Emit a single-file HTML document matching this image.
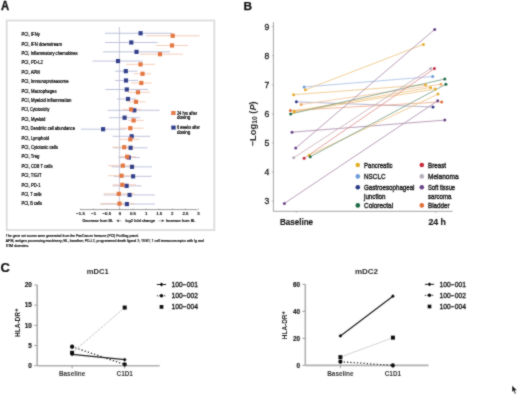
<!DOCTYPE html><html><head><meta charset="utf-8"><style>html,body{margin:0;padding:0;background:#fff;width:520px;height:398px;overflow:hidden}svg{position:absolute;left:0;top:0;display:block}text{font-family:"Liberation Sans",sans-serif}</style></head><body>
<svg width="520" height="398" viewBox="0 0 520 398">
<defs><filter id="bl" x="0" y="0" width="520" height="398" filterUnits="userSpaceOnUse"><feConvolveMatrix order="3" kernelMatrix="1 2 1 2 14 2 1 2 1" divisor="26" edgeMode="duplicate"/></filter></defs>
<rect width="520" height="398" fill="#fff"/><g filter="url(#bl)">
<text transform="translate(0.9,9.8) scale(0.92,1)" font-size="12.3" font-weight="bold" fill="#111" stroke="#111" stroke-width="0.25">A</text>
<rect x="6.7" y="20.5" width="207.6" height="209.6" fill="none" stroke="#dcdcdc" stroke-width="1.8"/>
<line x1="119.4" y1="27" x2="119.4" y2="209.6" stroke="#aeb2c8" stroke-width="0.7"/>
<text transform="translate(21.5,36.10) scale(0.900,1)" font-size="4.7" fill="#000" stroke="#000" stroke-width="0.2">PCI, IFNγ</text>
<line x1="105" y1="33.25" x2="172.5" y2="33.25" stroke="#aeb4d2" stroke-width="0.8"/>
<line x1="146" y1="35.75" x2="199.5" y2="35.75" stroke="#f3c2a6" stroke-width="0.8"/>
<text transform="translate(21.5,45.51) scale(0.900,1)" font-size="4.7" fill="#000" stroke="#000" stroke-width="0.2">PCI, IFN downstream</text>
<line x1="105" y1="42.46" x2="157.5" y2="42.46" stroke="#aeb4d2" stroke-width="0.8"/>
<line x1="156" y1="45.46" x2="188" y2="45.46" stroke="#f3c2a6" stroke-width="0.8"/>
<text transform="translate(21.5,54.91) scale(0.881,1)" font-size="4.7" fill="#000" stroke="#000" stroke-width="0.2">PCI, Inflammatory chemokines</text>
<line x1="103" y1="51.86" x2="170" y2="51.86" stroke="#aeb4d2" stroke-width="0.8"/>
<line x1="140" y1="54.16" x2="183" y2="54.16" stroke="#f3c2a6" stroke-width="0.8"/>
<text transform="translate(21.5,64.32) scale(0.900,1)" font-size="4.7" fill="#000" stroke="#000" stroke-width="0.2">PCI, PD-L2</text>
<line x1="92.5" y1="61.07" x2="142.5" y2="61.07" stroke="#aeb4d2" stroke-width="0.8"/>
<line x1="126" y1="64.37" x2="155" y2="64.37" stroke="#f3c2a6" stroke-width="0.8"/>
<text transform="translate(21.5,73.72) scale(0.900,1)" font-size="4.7" fill="#000" stroke="#000" stroke-width="0.2">PCI, APM</text>
<line x1="115" y1="71.17" x2="137.5" y2="71.17" stroke="#aeb4d2" stroke-width="0.8"/>
<line x1="134" y1="73.77" x2="151" y2="73.77" stroke="#f3c2a6" stroke-width="0.8"/>
<text transform="translate(21.5,83.13) scale(0.900,1)" font-size="4.7" fill="#000" stroke="#000" stroke-width="0.2">PCI, Immunoproteasome</text>
<line x1="115" y1="80.48" x2="138" y2="80.48" stroke="#aeb4d2" stroke-width="0.8"/>
<line x1="131" y1="82.98" x2="151.8" y2="82.98" stroke="#f3c2a6" stroke-width="0.8"/>
<text transform="translate(21.5,92.54) scale(0.900,1)" font-size="4.7" fill="#000" stroke="#000" stroke-width="0.2">PCI, Macrophages</text>
<line x1="105.5" y1="89.49" x2="148" y2="89.49" stroke="#aeb4d2" stroke-width="0.8"/>
<line x1="127.5" y1="92.29" x2="150" y2="92.29" stroke="#f3c2a6" stroke-width="0.8"/>
<text transform="translate(21.5,101.94) scale(0.916,1)" font-size="4.7" fill="#000" stroke="#000" stroke-width="0.2">PCI, Myeloid inflammation</text>
<line x1="117" y1="98.99" x2="136" y2="98.99" stroke="#aeb4d2" stroke-width="0.8"/>
<line x1="127.5" y1="101.79" x2="145.5" y2="101.79" stroke="#f3c2a6" stroke-width="0.8"/>
<text transform="translate(21.5,111.35) scale(0.809,1)" font-size="4.7" fill="#000" stroke="#000" stroke-width="0.2">PCI, Cytotoxicity</text>
<line x1="107.4" y1="110.30" x2="159.6" y2="110.30" stroke="#aeb4d2" stroke-width="0.8"/>
<line x1="122.5" y1="109.40" x2="141" y2="109.40" stroke="#f3c2a6" stroke-width="0.8"/>
<text transform="translate(21.5,120.75) scale(0.900,1)" font-size="4.7" fill="#000" stroke="#000" stroke-width="0.2">PCI, Myeloid</text>
<line x1="109.1" y1="117.70" x2="140.1" y2="117.70" stroke="#aeb4d2" stroke-width="0.8"/>
<line x1="128" y1="120.40" x2="143.7" y2="120.40" stroke="#f3c2a6" stroke-width="0.8"/>
<text transform="translate(21.5,130.16) scale(0.867,1)" font-size="4.7" fill="#000" stroke="#000" stroke-width="0.2">PCI, Dendritic cell abundance</text>
<line x1="81" y1="129.21" x2="126" y2="129.21" stroke="#aeb4d2" stroke-width="0.8"/>
<line x1="120" y1="128.21" x2="143.5" y2="128.21" stroke="#f3c2a6" stroke-width="0.8"/>
<text transform="translate(21.5,139.57) scale(0.900,1)" font-size="4.7" fill="#000" stroke="#000" stroke-width="0.2">PCI, Lymphoid</text>
<line x1="112.5" y1="136.32" x2="150.2" y2="136.32" stroke="#aeb4d2" stroke-width="0.8"/>
<line x1="120" y1="139.32" x2="139.4" y2="139.32" stroke="#f3c2a6" stroke-width="0.8"/>
<text transform="translate(21.5,148.97) scale(0.900,1)" font-size="4.7" fill="#000" stroke="#000" stroke-width="0.2">PCI, Cytotoxic cells</text>
<line x1="113.3" y1="147.82" x2="147.3" y2="147.82" stroke="#aeb4d2" stroke-width="0.8"/>
<line x1="112" y1="147.22" x2="135" y2="147.22" stroke="#f3c2a6" stroke-width="0.8"/>
<text transform="translate(21.5,158.38) scale(0.900,1)" font-size="4.7" fill="#000" stroke="#000" stroke-width="0.2">PCI, Treg</text>
<line x1="118.5" y1="157.53" x2="139.8" y2="157.53" stroke="#aeb4d2" stroke-width="0.8"/>
<line x1="118.5" y1="156.73" x2="136" y2="156.73" stroke="#f3c2a6" stroke-width="0.8"/>
<text transform="translate(21.5,167.78) scale(0.900,1)" font-size="4.7" fill="#000" stroke="#000" stroke-width="0.2">PCI, CD8 T cells</text>
<line x1="111.5" y1="166.83" x2="152" y2="166.83" stroke="#aeb4d2" stroke-width="0.8"/>
<line x1="108" y1="165.63" x2="135" y2="165.63" stroke="#f3c2a6" stroke-width="0.8"/>
<text transform="translate(21.5,177.19) scale(0.900,1)" font-size="4.7" fill="#000" stroke="#000" stroke-width="0.2">PCI, TIGIT</text>
<line x1="113.8" y1="176.34" x2="151.5" y2="176.34" stroke="#aeb4d2" stroke-width="0.8"/>
<line x1="107.8" y1="175.74" x2="135" y2="175.74" stroke="#f3c2a6" stroke-width="0.8"/>
<text transform="translate(21.5,186.60) scale(0.900,1)" font-size="4.7" fill="#000" stroke="#000" stroke-width="0.2">PCI, PD-1</text>
<line x1="112.5" y1="185.85" x2="141.4" y2="185.85" stroke="#aeb4d2" stroke-width="0.8"/>
<line x1="112.5" y1="184.85" x2="136" y2="184.85" stroke="#f3c2a6" stroke-width="0.8"/>
<text transform="translate(21.5,196.00) scale(0.843,1)" font-size="4.7" fill="#000" stroke="#000" stroke-width="0.2">PCI, T cells</text>
<line x1="103.7" y1="194.95" x2="154.9" y2="194.95" stroke="#aeb4d2" stroke-width="0.8"/>
<line x1="103.7" y1="193.85" x2="135" y2="193.85" stroke="#f3c2a6" stroke-width="0.8"/>
<text transform="translate(21.5,205.41) scale(0.848,1)" font-size="4.7" fill="#000" stroke="#000" stroke-width="0.2">PCI, B cells</text>
<line x1="100.4" y1="204.06" x2="154.9" y2="204.06" stroke="#aeb4d2" stroke-width="0.8"/>
<line x1="100.4" y1="203.66" x2="135" y2="203.66" stroke="#f3c2a6" stroke-width="0.8"/>
<rect x="138.50" y="31.15" width="4.2" height="4.2" fill="#313f8a"/>
<rect x="170.60" y="33.65" width="4.2" height="4.2" fill="#e4773f"/>
<rect x="129.20" y="40.36" width="4.2" height="4.2" fill="#313f8a"/>
<rect x="169.90" y="43.36" width="4.2" height="4.2" fill="#e4773f"/>
<rect x="134.40" y="49.76" width="4.2" height="4.2" fill="#313f8a"/>
<rect x="157.90" y="52.06" width="4.2" height="4.2" fill="#e4773f"/>
<rect x="115.90" y="58.97" width="4.2" height="4.2" fill="#313f8a"/>
<rect x="138.40" y="62.27" width="4.2" height="4.2" fill="#e4773f"/>
<rect x="123.70" y="69.07" width="4.2" height="4.2" fill="#313f8a"/>
<rect x="140.40" y="71.67" width="4.2" height="4.2" fill="#e4773f"/>
<rect x="123.90" y="78.38" width="4.2" height="4.2" fill="#313f8a"/>
<rect x="139.20" y="80.88" width="4.2" height="4.2" fill="#e4773f"/>
<rect x="124.70" y="87.39" width="4.2" height="4.2" fill="#313f8a"/>
<rect x="135.90" y="90.19" width="4.2" height="4.2" fill="#e4773f"/>
<rect x="125.90" y="96.89" width="4.2" height="4.2" fill="#313f8a"/>
<rect x="133.90" y="99.69" width="4.2" height="4.2" fill="#e4773f"/>
<rect x="132.20" y="108.20" width="4.2" height="4.2" fill="#313f8a"/>
<rect x="129.00" y="107.30" width="4.2" height="4.2" fill="#e4773f"/>
<rect x="122.50" y="115.60" width="4.2" height="4.2" fill="#313f8a"/>
<rect x="131.50" y="118.30" width="4.2" height="4.2" fill="#e4773f"/>
<rect x="101.00" y="127.11" width="4.2" height="4.2" fill="#313f8a"/>
<rect x="128.20" y="126.11" width="4.2" height="4.2" fill="#e4773f"/>
<rect x="129.60" y="134.22" width="4.2" height="4.2" fill="#313f8a"/>
<rect x="128.20" y="137.22" width="4.2" height="4.2" fill="#e4773f"/>
<rect x="128.50" y="145.72" width="4.2" height="4.2" fill="#313f8a"/>
<rect x="122.10" y="145.12" width="4.2" height="4.2" fill="#e4773f"/>
<rect x="126.70" y="155.43" width="4.2" height="4.2" fill="#313f8a"/>
<rect x="125.00" y="154.63" width="4.2" height="4.2" fill="#e4773f"/>
<rect x="129.90" y="164.73" width="4.2" height="4.2" fill="#313f8a"/>
<rect x="120.70" y="163.53" width="4.2" height="4.2" fill="#e4773f"/>
<rect x="131.00" y="174.24" width="4.2" height="4.2" fill="#313f8a"/>
<rect x="119.40" y="173.64" width="4.2" height="4.2" fill="#e4773f"/>
<rect x="124.50" y="183.75" width="4.2" height="4.2" fill="#313f8a"/>
<rect x="120.20" y="182.75" width="4.2" height="4.2" fill="#e4773f"/>
<rect x="127.50" y="192.85" width="4.2" height="4.2" fill="#313f8a"/>
<rect x="116.70" y="191.75" width="4.2" height="4.2" fill="#e4773f"/>
<rect x="124.80" y="201.96" width="4.2" height="4.2" fill="#313f8a"/>
<rect x="117.40" y="201.56" width="4.2" height="4.2" fill="#e4773f"/>
<rect x="171.2" y="111" width="4.4" height="4" fill="#e27c4c"/>
<rect x="171.3" y="125.6" width="4.4" height="4" fill="#313f8a"/>
<text x="176.9" y="114.7" font-size="4.6" fill="#000" stroke="#000" stroke-width="0.2" textLength="20.2" lengthAdjust="spacingAndGlyphs">24 hrs after</text>
<text x="176.9" y="119.3" font-size="4.6" fill="#000" stroke="#000" stroke-width="0.2">dosing</text>
<text x="176.9" y="129.2" font-size="4.6" fill="#000" stroke="#000" stroke-width="0.2" textLength="23" lengthAdjust="spacingAndGlyphs">6 weeks after</text>
<text x="176.9" y="133.8" font-size="4.6" fill="#000" stroke="#000" stroke-width="0.2">dosing</text>
<line x1="80.3" y1="209.6" x2="197.5" y2="209.6" stroke="#555" stroke-width="0.6"/>
<line x1="80.60" y1="208.6" x2="80.60" y2="209.6" stroke="#555" stroke-width="0.5"/>
<text x="80.60" y="215.1" font-size="4.3" fill="#000" stroke="#000" stroke-width="0.2" text-anchor="middle">−1.5</text>
<line x1="93.70" y1="208.6" x2="93.70" y2="209.6" stroke="#555" stroke-width="0.5"/>
<text x="93.70" y="215.1" font-size="4.3" fill="#000" stroke="#000" stroke-width="0.2" text-anchor="middle">−1</text>
<line x1="106.80" y1="208.6" x2="106.80" y2="209.6" stroke="#555" stroke-width="0.5"/>
<text x="106.80" y="215.1" font-size="4.3" fill="#000" stroke="#000" stroke-width="0.2" text-anchor="middle">−0.5</text>
<line x1="119.90" y1="208.6" x2="119.90" y2="209.6" stroke="#555" stroke-width="0.5"/>
<text x="119.90" y="215.1" font-size="4.3" fill="#000" stroke="#000" stroke-width="0.2" text-anchor="middle">0</text>
<line x1="133.00" y1="208.6" x2="133.00" y2="209.6" stroke="#555" stroke-width="0.5"/>
<text x="133.00" y="215.1" font-size="4.3" fill="#000" stroke="#000" stroke-width="0.2" text-anchor="middle">0.5</text>
<line x1="146.10" y1="208.6" x2="146.10" y2="209.6" stroke="#555" stroke-width="0.5"/>
<text x="146.10" y="215.1" font-size="4.3" fill="#000" stroke="#000" stroke-width="0.2" text-anchor="middle">1</text>
<line x1="159.20" y1="208.6" x2="159.20" y2="209.6" stroke="#555" stroke-width="0.5"/>
<text x="159.20" y="215.1" font-size="4.3" fill="#000" stroke="#000" stroke-width="0.2" text-anchor="middle">1.5</text>
<line x1="172.30" y1="208.6" x2="172.30" y2="209.6" stroke="#555" stroke-width="0.5"/>
<text x="172.30" y="215.1" font-size="4.3" fill="#000" stroke="#000" stroke-width="0.2" text-anchor="middle">2</text>
<line x1="185.40" y1="208.6" x2="185.40" y2="209.6" stroke="#555" stroke-width="0.5"/>
<text x="185.40" y="215.1" font-size="4.3" fill="#000" stroke="#000" stroke-width="0.2" text-anchor="middle">2.5</text>
<line x1="198.50" y1="208.6" x2="198.50" y2="209.6" stroke="#555" stroke-width="0.5"/>
<text x="198.50" y="215.1" font-size="4.3" fill="#000" stroke="#000" stroke-width="0.2" text-anchor="middle">3</text>
<text x="82.4" y="222.1" font-size="4.3" fill="#000" stroke="#000" stroke-width="0.2" textLength="30.8" lengthAdjust="spacingAndGlyphs">Decrease from BL</text>
<path d="M116.2 220.8L118.8 219.6L118.8 222Z" fill="#222"/><line x1="118" y1="220.8" x2="121.5" y2="220.8" stroke="#555" stroke-width="0.5"/>
<text x="125.4" y="222.1" font-size="4.3" fill="#000" stroke="#000" stroke-width="0.2" textLength="29.7" lengthAdjust="spacingAndGlyphs">log2 fold change</text>
<path d="M164.4 220.8L161.8 219.6L161.8 222Z" fill="#222"/><line x1="158.4" y1="220.8" x2="162.5" y2="220.8" stroke="#555" stroke-width="0.5"/>
<text x="165.8" y="222.1" font-size="4.3" fill="#000" stroke="#000" stroke-width="0.2" textLength="29.6" lengthAdjust="spacingAndGlyphs">Increase from BL</text>
<text x="5.8" y="236.6" font-size="3.5" fill="#000" stroke="#000" stroke-width="0.16" textLength="133" lengthAdjust="spacingAndGlyphs">The gene set scores were generated from the PanCancer Immune (PCI) Profiling panel.</text>
<text x="5.8" y="241.7" font-size="3.5" fill="#000" stroke="#000" stroke-width="0.16" textLength="198" lengthAdjust="spacingAndGlyphs">APM, antigen processing machinery; BL, baseline; PD-L2, programmed death ligand 2; TIGIT, T cell immunoreceptor with Ig and</text>
<text x="5.8" y="247.0" font-size="3.5" fill="#000" stroke="#000" stroke-width="0.16" textLength="23.4" lengthAdjust="spacingAndGlyphs">ITIM domains.</text>
<text x="243.6" y="9.7" font-size="11.8" font-weight="bold" fill="#111" stroke="#111" stroke-width="0.25">B</text>
<line x1="273.4" y1="22" x2="273.4" y2="211.3" stroke="#9a9a9a" stroke-width="0.9"/>
<line x1="273.4" y1="211.3" x2="452.5" y2="211.3" stroke="#9a9a9a" stroke-width="0.9"/>
<line x1="271.6" y1="201.20" x2="273.4" y2="201.20" stroke="#9a9a9a" stroke-width="0.6"/>
<text x="269.2" y="204.25" font-size="8.6" fill="#1e1e1e" stroke="#1e1e1e" stroke-width="0.3" text-anchor="end">3</text>
<line x1="271.6" y1="172.10" x2="273.4" y2="172.10" stroke="#9a9a9a" stroke-width="0.6"/>
<text x="269.2" y="175.15" font-size="8.6" fill="#1e1e1e" stroke="#1e1e1e" stroke-width="0.3" text-anchor="end">4</text>
<line x1="271.6" y1="143.00" x2="273.4" y2="143.00" stroke="#9a9a9a" stroke-width="0.6"/>
<text x="269.2" y="146.05" font-size="8.6" fill="#1e1e1e" stroke="#1e1e1e" stroke-width="0.3" text-anchor="end">5</text>
<line x1="271.6" y1="113.90" x2="273.4" y2="113.90" stroke="#9a9a9a" stroke-width="0.6"/>
<text x="269.2" y="116.95" font-size="8.6" fill="#1e1e1e" stroke="#1e1e1e" stroke-width="0.3" text-anchor="end">6</text>
<line x1="271.6" y1="84.80" x2="273.4" y2="84.80" stroke="#9a9a9a" stroke-width="0.6"/>
<text x="269.2" y="87.85" font-size="8.6" fill="#1e1e1e" stroke="#1e1e1e" stroke-width="0.3" text-anchor="end">7</text>
<line x1="271.6" y1="55.70" x2="273.4" y2="55.70" stroke="#9a9a9a" stroke-width="0.6"/>
<text x="269.2" y="58.75" font-size="8.6" fill="#1e1e1e" stroke="#1e1e1e" stroke-width="0.3" text-anchor="end">8</text>
<line x1="271.6" y1="26.60" x2="273.4" y2="26.60" stroke="#9a9a9a" stroke-width="0.6"/>
<text x="269.2" y="29.65" font-size="8.6" fill="#1e1e1e" stroke="#1e1e1e" stroke-width="0.3" text-anchor="end">9</text>
<line x1="296.3" y1="211.3" x2="296.3" y2="213" stroke="#9a9a9a" stroke-width="0.6"/>
<line x1="435.7" y1="211.3" x2="435.7" y2="213" stroke="#9a9a9a" stroke-width="0.6"/>
<text x="279.9" y="225.2" font-size="9.7" font-weight="bold" fill="#1a1a1a" stroke="#1a1a1a" stroke-width="0.2" textLength="33.2" lengthAdjust="spacingAndGlyphs">Baseline</text>
<text x="428.4" y="225.2" font-size="9.4" font-weight="bold" fill="#1a1a1a" stroke="#1a1a1a" stroke-width="0.2" textLength="17.5" lengthAdjust="spacingAndGlyphs">24 h</text>
<text transform="translate(256.2,123.8) rotate(-90)" font-size="9.3" font-weight="bold" fill="#2a2a2a" text-anchor="middle">−Log<tspan font-size="6.8" dy="0.9">10</tspan><tspan dy="-0.9"> (</tspan><tspan font-style="italic">P</tspan>)</text>
<line x1="304.1" y1="87.0" x2="432.7" y2="76.5" stroke="#9fbbe4" stroke-width="0.8"/>
<line x1="305.4" y1="89.8" x2="423.4" y2="44.4" stroke="#eec27c" stroke-width="0.8"/>
<line x1="293.6" y1="94.7" x2="425.6" y2="84.8" stroke="#eec27c" stroke-width="0.8"/>
<line x1="296.4" y1="101.8" x2="433.0" y2="107.0" stroke="#a6a2c0" stroke-width="0.8"/>
<line x1="301.1" y1="104.5" x2="440.9" y2="84.3" stroke="#f2c49a" stroke-width="0.8"/>
<line x1="290.4" y1="110.5" x2="441.7" y2="101.9" stroke="#eea888" stroke-width="0.8"/>
<line x1="294.3" y1="111.2" x2="430.6" y2="87.4" stroke="#eec27c" stroke-width="0.8"/>
<line x1="294.0" y1="112.0" x2="435.3" y2="89.0" stroke="#eec27c" stroke-width="0.8"/>
<line x1="290.7" y1="113.9" x2="444.8" y2="79.0" stroke="#6f9a80" stroke-width="0.8"/>
<line x1="292.0" y1="132.2" x2="444.8" y2="120.1" stroke="#a886a8" stroke-width="0.8"/>
<line x1="295.7" y1="148.1" x2="434.7" y2="29.4" stroke="#a886a8" stroke-width="0.8"/>
<line x1="293.7" y1="157.8" x2="430.6" y2="68.6" stroke="#c6aab4" stroke-width="0.8"/>
<line x1="304.1" y1="158.2" x2="434.4" y2="68.6" stroke="#dc8a8a" stroke-width="0.8"/>
<line x1="309.2" y1="155.2" x2="438.0" y2="94.1" stroke="#eec27c" stroke-width="0.8"/>
<line x1="310.2" y1="156.8" x2="445.9" y2="84.3" stroke="#6f9a80" stroke-width="0.8"/>
<line x1="284.4" y1="203.4" x2="437.7" y2="100.8" stroke="#a886a8" stroke-width="0.8"/>
<circle cx="304.1" cy="87.0" r="1.5" fill="#6f9cd8"/>
<circle cx="432.7" cy="76.5" r="1.5" fill="#6f9cd8"/>
<circle cx="305.4" cy="89.8" r="1.5" fill="#e4ad2a"/>
<circle cx="423.4" cy="44.4" r="1.5" fill="#e4ad2a"/>
<circle cx="293.6" cy="94.7" r="1.5" fill="#e4ad2a"/>
<circle cx="425.6" cy="84.8" r="1.5" fill="#e4ad2a"/>
<circle cx="296.4" cy="101.8" r="1.5" fill="#2a3a86"/>
<circle cx="433.0" cy="107.0" r="1.5" fill="#2a3a86"/>
<circle cx="301.1" cy="104.5" r="1.5" fill="#f0a860"/>
<circle cx="440.9" cy="84.3" r="1.5" fill="#f0a860"/>
<circle cx="290.4" cy="110.5" r="1.5" fill="#e0703a"/>
<circle cx="441.7" cy="101.9" r="1.5" fill="#e0703a"/>
<circle cx="294.3" cy="111.2" r="1.5" fill="#e4ad2a"/>
<circle cx="430.6" cy="87.4" r="1.5" fill="#e4ad2a"/>
<circle cx="294.0" cy="112.0" r="1.5" fill="#e4ad2a"/>
<circle cx="435.3" cy="89.0" r="1.5" fill="#e4ad2a"/>
<circle cx="290.7" cy="113.9" r="1.5" fill="#1d6b45"/>
<circle cx="444.8" cy="79.0" r="1.5" fill="#1d6b45"/>
<circle cx="292.0" cy="132.2" r="1.5" fill="#6a4488"/>
<circle cx="444.8" cy="120.1" r="1.5" fill="#6a4488"/>
<circle cx="295.7" cy="148.1" r="1.5" fill="#6a4488"/>
<circle cx="434.7" cy="29.4" r="1.5" fill="#6a4488"/>
<circle cx="293.7" cy="157.8" r="1.5" fill="#b7aebb"/>
<circle cx="430.6" cy="68.6" r="1.5" fill="#b7aebb"/>
<circle cx="304.1" cy="158.2" r="1.5" fill="#c42a3c"/>
<circle cx="434.4" cy="68.6" r="1.5" fill="#c42a3c"/>
<circle cx="309.2" cy="155.2" r="1.5" fill="#e4ad2a"/>
<circle cx="438.0" cy="94.1" r="1.5" fill="#e4ad2a"/>
<circle cx="310.2" cy="156.8" r="1.5" fill="#1d6b45"/>
<circle cx="445.9" cy="84.3" r="1.5" fill="#1d6b45"/>
<circle cx="284.4" cy="203.4" r="1.5" fill="#6a4488"/>
<circle cx="437.7" cy="100.8" r="1.5" fill="#6a4488"/>
<circle cx="357.8" cy="165.0" r="2.3" fill="#e4ad2a"/>
<text x="364.0" y="167.8" font-size="7.6" fill="#1a1a1a" stroke="#1a1a1a" stroke-width="0.4" textLength="28.5" lengthAdjust="spacingAndGlyphs">Pancreatic</text>
<circle cx="357.8" cy="176.4" r="2.3" fill="#6f9cd8"/>
<text x="364.0" y="179.0" font-size="7.6" fill="#1a1a1a" stroke="#1a1a1a" stroke-width="0.4" textLength="21.5" lengthAdjust="spacingAndGlyphs">NSCLC</text>
<circle cx="357.8" cy="187.2" r="2.3" fill="#2a3a86"/>
<text x="364.0" y="189.7" font-size="7.6" fill="#1a1a1a" stroke="#1a1a1a" stroke-width="0.4" textLength="50.5" lengthAdjust="spacingAndGlyphs">Gastroesophageal</text>
<text x="364.0" y="198.5" font-size="7.6" fill="#1a1a1a" stroke="#1a1a1a" stroke-width="0.4" textLength="21.5" lengthAdjust="spacingAndGlyphs">junction</text>
<circle cx="357.8" cy="205.4" r="2.3" fill="#1d6b45"/>
<text x="364.0" y="208.2" font-size="7.6" fill="#1a1a1a" stroke="#1a1a1a" stroke-width="0.4" textLength="29.1" lengthAdjust="spacingAndGlyphs">Colorectal</text>
<circle cx="421.8" cy="165.0" r="2.3" fill="#c42a3c"/>
<text x="428.0" y="167.9" font-size="7.6" fill="#1a1a1a" stroke="#1a1a1a" stroke-width="0.4" textLength="18" lengthAdjust="spacingAndGlyphs">Breast</text>
<circle cx="421.8" cy="176.4" r="2.3" fill="#b7aebb"/>
<text x="428.0" y="178.9" font-size="7.6" fill="#1a1a1a" stroke="#1a1a1a" stroke-width="0.4" textLength="30.6" lengthAdjust="spacingAndGlyphs">Melanoma</text>
<circle cx="421.8" cy="187.2" r="2.3" fill="#6a4488"/>
<text x="428.0" y="189.5" font-size="7.6" fill="#1a1a1a" stroke="#1a1a1a" stroke-width="0.4" textLength="27.1" lengthAdjust="spacingAndGlyphs">Soft tissue</text>
<text x="428.0" y="198.6" font-size="7.6" fill="#1a1a1a" stroke="#1a1a1a" stroke-width="0.4" textLength="23.4" lengthAdjust="spacingAndGlyphs">sarcoma</text>
<circle cx="421.8" cy="205.4" r="2.3" fill="#e0703a"/>
<text x="428.0" y="208.2" font-size="7.6" fill="#1a1a1a" stroke="#1a1a1a" stroke-width="0.4" textLength="21.6" lengthAdjust="spacingAndGlyphs">Bladder</text>
<text x="0.6" y="271.8" font-size="13" font-weight="bold" fill="#111" stroke="#111" stroke-width="0.2">C</text>
<text x="86.8" y="273.9" font-size="7.9" font-weight="bold" fill="#2a2a2a" textLength="21.9" lengthAdjust="spacingAndGlyphs">mDC1</text>
<line x1="37.2" y1="284.7" x2="37.2" y2="365.7" stroke="#b0b0b0" stroke-width="1.6"/>
<line x1="37.2" y1="365.7" x2="159.7" y2="365.7" stroke="#b0b0b0" stroke-width="1.6"/>
<line x1="34.2" y1="365.70" x2="37.2" y2="365.70" stroke="#8a8a8a" stroke-width="0.8"/>
<text x="31.9" y="368.00" font-size="6.4" font-weight="bold" fill="#1e1e1e" stroke="#1e1e1e" stroke-width="0.2" text-anchor="end">0</text>
<line x1="34.2" y1="345.52" x2="37.2" y2="345.52" stroke="#8a8a8a" stroke-width="0.8"/>
<text x="31.9" y="347.82" font-size="6.4" font-weight="bold" fill="#1e1e1e" stroke="#1e1e1e" stroke-width="0.2" text-anchor="end">5</text>
<line x1="34.2" y1="325.35" x2="37.2" y2="325.35" stroke="#8a8a8a" stroke-width="0.8"/>
<text x="31.9" y="327.65" font-size="6.4" font-weight="bold" fill="#1e1e1e" stroke="#1e1e1e" stroke-width="0.2" text-anchor="end">10</text>
<line x1="34.2" y1="305.17" x2="37.2" y2="305.17" stroke="#8a8a8a" stroke-width="0.8"/>
<text x="31.9" y="307.47" font-size="6.4" font-weight="bold" fill="#1e1e1e" stroke="#1e1e1e" stroke-width="0.2" text-anchor="end">15</text>
<line x1="34.2" y1="285.00" x2="37.2" y2="285.00" stroke="#8a8a8a" stroke-width="0.8"/>
<text x="31.9" y="287.30" font-size="6.4" font-weight="bold" fill="#1e1e1e" stroke="#1e1e1e" stroke-width="0.2" text-anchor="end">20</text>
<line x1="72.1" y1="365.7" x2="72.1" y2="368.5" stroke="#8a8a8a" stroke-width="0.8"/>
<line x1="124.7" y1="365.7" x2="124.7" y2="368.5" stroke="#8a8a8a" stroke-width="0.8"/>
<text x="72.1" y="376" font-size="6.4" font-weight="bold" fill="#333" text-anchor="middle">Baseline</text>
<text x="124.7" y="376" font-size="6.4" font-weight="bold" fill="#333" text-anchor="middle">C1D1</text>
<text transform="translate(20.2,337.1) rotate(-90)" font-size="6.5" font-weight="bold" fill="#1e1e1e"><tspan textLength="25.2" lengthAdjust="spacingAndGlyphs">HLA-DR</tspan><tspan font-size="4.8" dx="0.3" dy="-2.7" stroke="#1e1e1e" stroke-width="0.25">+</tspan></text>
<line x1="72.1" y1="352.79" x2="124.7" y2="307.60" stroke="#a8a8a8" stroke-width="1" stroke-dasharray="1,1"/>
<line x1="72.1" y1="346.74" x2="124.7" y2="364.49" stroke="#222" stroke-width="1.2" stroke-dasharray="1.3,2"/>
<line x1="72.1" y1="354.40" x2="124.7" y2="359.65" stroke="#222" stroke-width="1.25"/>
<rect x="70.10" y="350.79" width="4.0" height="4.0" fill="#111"/>
<rect x="122.70" y="305.60" width="4.0" height="4.0" fill="#111"/>
<circle cx="72.1" cy="346.74" r="2.15" fill="#111"/>
<circle cx="124.7" cy="364.49" r="2.15" fill="#111"/>
<path d="M70.20 354.40L72.10 352.50L74.00 354.40L72.10 356.30Z" fill="#111"/>
<path d="M122.80 359.65L124.70 357.75L126.60 359.65L124.70 361.55Z" fill="#111"/>
<line x1="156.9" y1="284.5" x2="166.1" y2="284.5" stroke="#222" stroke-width="1"/>
<path d="M159.60 284.50L161.50 282.60L163.40 284.50L161.50 286.40Z" fill="#111"/>
<line x1="156.9" y1="295.8" x2="166.1" y2="295.8" stroke="#222" stroke-width="1" stroke-dasharray="1.2,1.2"/>
<circle cx="161.5" cy="295.80" r="1.8" fill="#111"/>
<rect x="159.65" y="305.05" width="3.7" height="3.7" fill="#111"/>
<text x="171.5" y="286.8" font-size="6.7" fill="#111" stroke="#111" stroke-width="0.28" textLength="26.4" lengthAdjust="spacingAndGlyphs">100−001</text>
<text x="171.5" y="298.1" font-size="6.7" fill="#111" stroke="#111" stroke-width="0.28" textLength="26.4" lengthAdjust="spacingAndGlyphs">100−002</text>
<text x="171.5" y="309.2" font-size="6.7" fill="#111" stroke="#111" stroke-width="0.28" textLength="26.4" lengthAdjust="spacingAndGlyphs">100−004</text>
<text x="354.9" y="273.6" font-size="7.9" font-weight="bold" fill="#2a2a2a" textLength="23.2" lengthAdjust="spacingAndGlyphs">mDC2</text>
<line x1="305.3" y1="284.3" x2="305.3" y2="365.4" stroke="#b0b0b0" stroke-width="1.6"/>
<line x1="305.3" y1="365.4" x2="428.6" y2="365.4" stroke="#b0b0b0" stroke-width="1.6"/>
<line x1="302.3" y1="365.40" x2="305.3" y2="365.40" stroke="#8a8a8a" stroke-width="0.8"/>
<text x="300" y="367.70" font-size="6.4" font-weight="bold" fill="#1e1e1e" stroke="#1e1e1e" stroke-width="0.2" text-anchor="end">0</text>
<line x1="302.3" y1="338.36" x2="305.3" y2="338.36" stroke="#8a8a8a" stroke-width="0.8"/>
<text x="300" y="340.66" font-size="6.4" font-weight="bold" fill="#1e1e1e" stroke="#1e1e1e" stroke-width="0.2" text-anchor="end">20</text>
<line x1="302.3" y1="311.32" x2="305.3" y2="311.32" stroke="#8a8a8a" stroke-width="0.8"/>
<text x="300" y="313.62" font-size="6.4" font-weight="bold" fill="#1e1e1e" stroke="#1e1e1e" stroke-width="0.2" text-anchor="end">40</text>
<line x1="302.3" y1="284.28" x2="305.3" y2="284.28" stroke="#8a8a8a" stroke-width="0.8"/>
<text x="300" y="286.58" font-size="6.4" font-weight="bold" fill="#1e1e1e" stroke="#1e1e1e" stroke-width="0.2" text-anchor="end">60</text>
<line x1="340.4" y1="365.4" x2="340.4" y2="368.2" stroke="#8a8a8a" stroke-width="0.8"/>
<line x1="392.9" y1="365.4" x2="392.9" y2="368.2" stroke="#8a8a8a" stroke-width="0.8"/>
<text x="340.4" y="376" font-size="6.4" font-weight="bold" fill="#333" text-anchor="middle">Baseline</text>
<text x="392.9" y="376" font-size="6.4" font-weight="bold" fill="#333" text-anchor="middle">C1D1</text>
<text transform="translate(287.3,339.2) rotate(-90)" font-size="6.4" font-weight="bold" fill="#1e1e1e"><tspan textLength="24.7" lengthAdjust="spacingAndGlyphs">HLA-DR</tspan><tspan font-size="4.8" dx="0.3" dy="-2.7" stroke="#1e1e1e" stroke-width="0.25">+</tspan></text>
<line x1="340.4" y1="357.15" x2="392.9" y2="337.68" stroke="#a8a8a8" stroke-width="1" stroke-dasharray="1,1"/>
<line x1="340.4" y1="361.75" x2="392.9" y2="365.40" stroke="#222" stroke-width="1.2" stroke-dasharray="1.3,2"/>
<line x1="340.4" y1="335.93" x2="392.9" y2="296.18" stroke="#222" stroke-width="1.25"/>
<rect x="338.40" y="355.15" width="4.0" height="4.0" fill="#111"/>
<rect x="390.90" y="335.68" width="4.0" height="4.0" fill="#111"/>
<circle cx="340.4" cy="361.75" r="2.15" fill="#111"/>
<circle cx="392.9" cy="365.40" r="2.15" fill="#111"/>
<path d="M338.50 335.93L340.40 334.03L342.30 335.93L340.40 337.83Z" fill="#111"/>
<path d="M391.00 296.18L392.90 294.28L394.80 296.18L392.90 298.08Z" fill="#111"/>
<line x1="424.9" y1="284.3" x2="434.1" y2="284.3" stroke="#222" stroke-width="1"/>
<path d="M427.60 284.30L429.50 282.40L431.40 284.30L429.50 286.20Z" fill="#111"/>
<line x1="424.9" y1="295.3" x2="434.1" y2="295.3" stroke="#222" stroke-width="1" stroke-dasharray="1.2,1.2"/>
<circle cx="429.5" cy="295.30" r="1.8" fill="#111"/>
<rect x="427.65" y="304.65" width="3.7" height="3.7" fill="#111"/>
<text x="439.5" y="286.6" font-size="6.7" fill="#111" stroke="#111" stroke-width="0.28" textLength="26.4" lengthAdjust="spacingAndGlyphs">100−001</text>
<text x="439.5" y="297.6" font-size="6.7" fill="#111" stroke="#111" stroke-width="0.28" textLength="26.4" lengthAdjust="spacingAndGlyphs">100−002</text>
<text x="439.5" y="308.8" font-size="6.7" fill="#111" stroke="#111" stroke-width="0.28" textLength="26.4" lengthAdjust="spacingAndGlyphs">100−004</text>
<path d="M512 385.5 L512 392.3 L513.6 390.8 L514.9 393.9 L516 393.4 L514.8 390.4 L517 390.3 Z" fill="#000" stroke="#fff" stroke-width="0.4"/>
</g></svg></body></html>
